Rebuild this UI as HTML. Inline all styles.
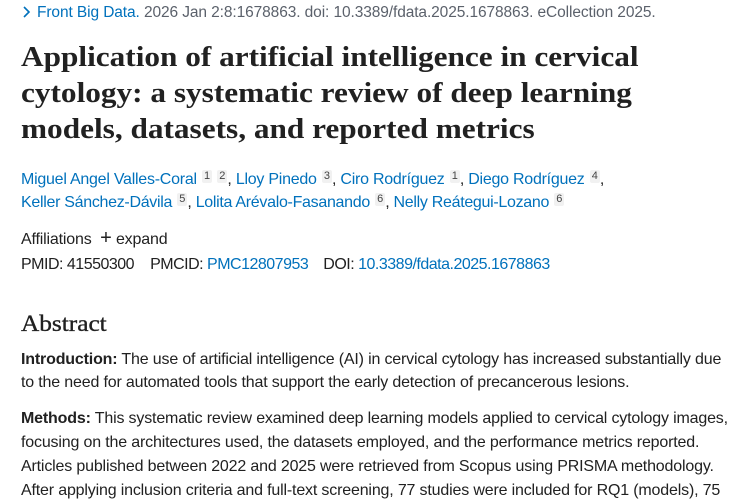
<!DOCTYPE html>
<html><head><meta charset="utf-8">
<style>
html,body{margin:0;padding:0;background:#fff;}
body{width:750px;height:500px;overflow:hidden;position:relative;font-family:"Liberation Sans",sans-serif;color:#212121;}
.l{position:absolute;left:21px;white-space:nowrap;}
.b{font-size:16px;line-height:24px;letter-spacing:-0.17px;}
.a{color:#0071bc;}
.g{color:#5b616b;}
.t{font-family:"Liberation Serif",serif;font-weight:bold;font-size:28px;line-height:36px;color:#212121;transform:scaleX(1.117);transform-origin:0 0;}
.s{display:inline-block;background:#f1f1f1;color:#444;font-size:11px;line-height:13px;padding:0 2px;min-width:6px;text-align:center;vertical-align:top;margin-top:2px;margin-left:1px;border-radius:2px;letter-spacing:0;}
.sb{font-weight:bold;}
</style></head><body>
<svg style="position:absolute;left:22px;top:5px;" width="10" height="14"><polyline points="2,2 7,7 2,12" fill="none" stroke="#0071bc" stroke-width="1.6"/></svg>
<div class="l" style="top:3px;left:37px;font-size:15.5px;line-height:20px;letter-spacing:-0.1px;"><span class="a">Front Big Data.</span><span class="g"> 2026 Jan 2:8:1678863. doi: 10.3389/fdata.2025.1678863. eCollection 2025.</span></div>

<div class="l t" style="top:40px;">Application of artificial intelligence in cervical</div>
<div class="l t" style="top:76px;">cytology: a systematic review of deep learning</div>
<div class="l t" style="top:112px;">models, datasets, and reported metrics</div>

<div class="l b" style="top:168px;letter-spacing:-0.25px;"><span class="a">Miguel Angel Valles-Coral</span> <span class="s">1</span> <span class="s">2</span>, <span class="a">Lloy Pinedo</span> <span class="s">3</span>, <span class="a">Ciro Rodríguez</span> <span class="s">1</span>, <span class="a">Diego Rodríguez</span> <span class="s">4</span>,</div>
<div class="l b" style="top:191px;letter-spacing:-0.3px;"><span class="a">Keller Sánchez-Dávila</span> <span class="s">5</span>, <span class="a">Lolita Arévalo-Fasanando</span> <span class="s">6</span>, <span class="a">Nelly Reátegui-Lozano</span> <span class="s">6</span></div>

<div class="l b" style="top:226px;">Affiliations &nbsp;<span style="font-size:20px;">+</span> expand</div>
<div class="l b" style="top:253px;letter-spacing:-0.5px;">PMID: 41550300<span style="display:inline-block;width:16px;"></span>PMCID: <span class="a">PMC12807953</span><span style="display:inline-block;width:15px;"></span>DOI: <span class="a">10.3389/fdata.2025.1678863</span></div>

<div class="l" style="top:310px;font-family:'Liberation Serif',serif;font-size:23px;line-height:28px;transform:scaleX(1.1);transform-origin:0 0;-webkit-text-stroke:0.35px #212121;">Abstract</div>

<div class="l b" style="top:348px;"><span class="sb">Introduction:</span> The use of artificial intelligence (AI) in cervical cytology has increased substantially due</div>
<div class="l b" style="top:371px;">to the need for automated tools that support the early detection of precancerous lesions.</div>

<div class="l b" style="top:407px;"><span class="sb">Methods:</span> This systematic review examined deep learning models applied to cervical cytology images,</div>
<div class="l b" style="top:431px;">focusing on the architectures used, the datasets employed, and the performance metrics reported.</div>
<div class="l b" style="top:455px;">Articles published between 2022 and 2025 were retrieved from Scopus using PRISMA methodology.</div>
<div class="l b" style="top:479px;">After applying inclusion criteria and full-text screening, 77 studies were included for RQ1 (models), 75</div>
</body></html>
